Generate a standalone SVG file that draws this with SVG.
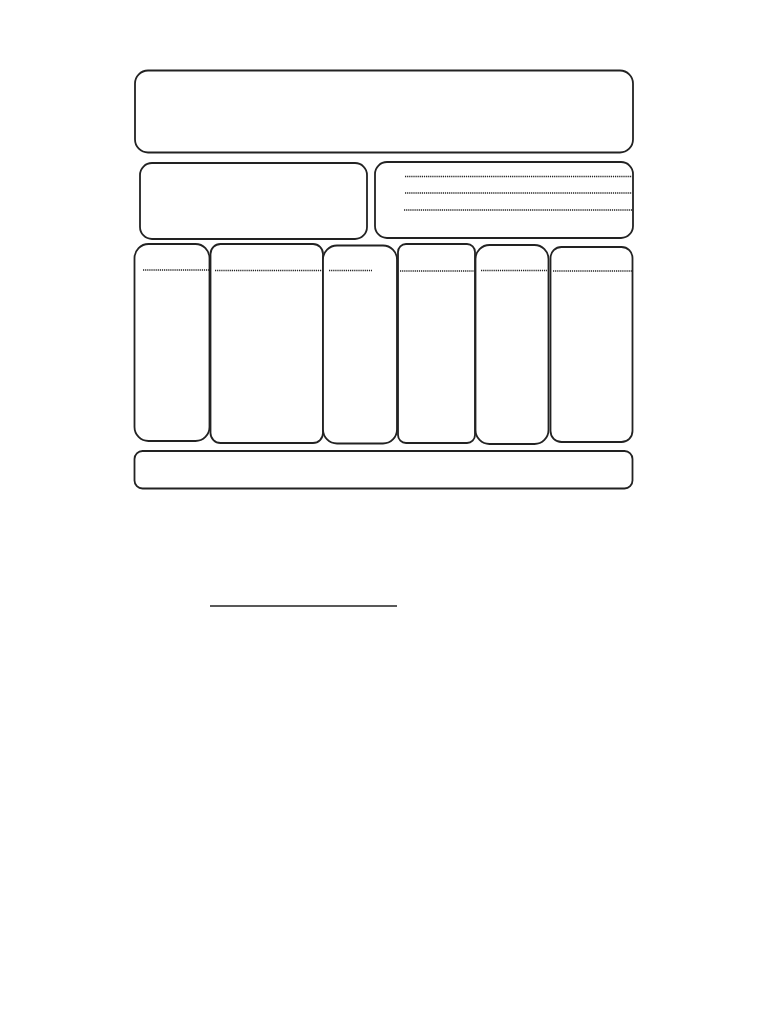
<svg xmlns="http://www.w3.org/2000/svg" width="768" height="1024" viewBox="0 0 768 1024">
<style>
.box{fill:#fff;stroke:#222;stroke-width:1.8}
.dot{stroke:#222;stroke-width:1.5;stroke-dasharray:1.2 0.9}
</style>
<rect width="768" height="1024" fill="#fff"/>
<g id="top"><rect class="box" x="135" y="70.5" width="498" height="82" rx="13"/></g>
<g id="midLeft"><rect class="box" x="140" y="163" width="227" height="76" rx="12"/></g>
<g id="midRight"><rect class="box" x="375" y="162" width="258" height="76" rx="12"/>
<line class="dot" x1="405" y1="176.5" x2="632" y2="176.5"/>
<line class="dot" x1="405" y1="193" x2="632" y2="193"/>
<line class="dot" x1="404" y1="210" x2="632" y2="210"/></g>
<g id="col1"><rect class="box" x="134.5" y="244" width="75" height="197" rx="14"/><line class="dot" x1="143" y1="270" x2="209" y2="270"/></g>
<g id="col2"><rect class="box" x="210.5" y="244" width="112.5" height="199" rx="10"/><line class="dot" x1="215" y1="270.5" x2="322" y2="270.5"/></g>
<g id="col3"><rect class="box" x="323" y="245.5" width="74" height="198" rx="14"/><line class="dot" x1="329" y1="270.5" x2="372" y2="270.5"/></g>
<g id="col4"><rect class="box" x="398" y="244" width="77" height="199" rx="8"/><line class="dot" x1="400" y1="271" x2="474" y2="271"/></g>
<g id="col5"><rect class="box" x="475.5" y="245" width="73" height="199" rx="14"/><line class="dot" x1="481" y1="270.5" x2="547" y2="270.5"/></g>
<g id="col6"><rect class="box" x="550.5" y="247" width="82" height="195" rx="11"/><line class="dot" x1="553" y1="271" x2="632" y2="271"/></g>
<g id="bottom"><rect class="box" x="134.5" y="451" width="498" height="37.5" rx="8"/></g>
<g id="connectors"><line x1="210" y1="606" x2="397" y2="606" stroke="#222" stroke-width="1.6"/></g>
</svg>
